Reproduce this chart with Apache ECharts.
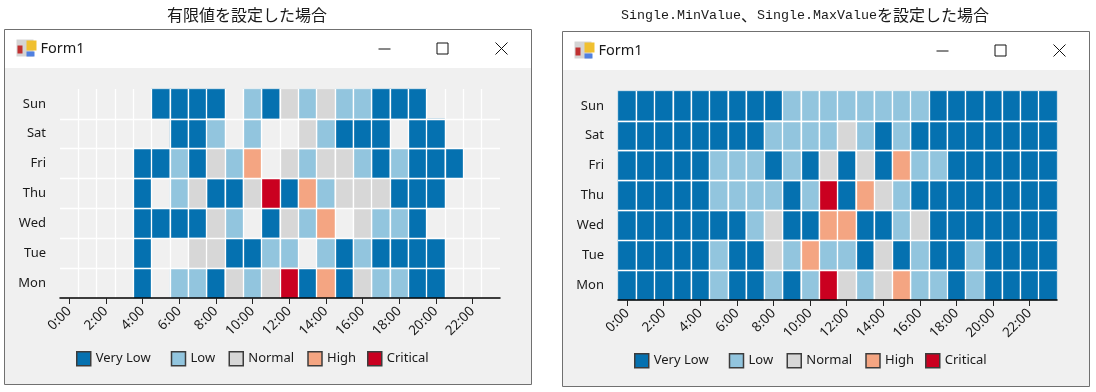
<!DOCTYPE html>
<html>
<head>
<meta charset="utf-8">
<title>Heatmap</title>
<script src="https://cdn.jsdelivr.net/npm/echarts@6/dist/echarts.min.js"></script>
<style>
  html, body { margin: 0; padding: 0; background: #fff; }
  #chart { width: 1096px; height: 392px; }
</style>
</head>
<body>
<div id="chart"></div>
<script>
const days = ['Mon', 'Tue', 'Wed', 'Thu', 'Fri', 'Sat', 'Sun'];
const hours = ['0:00', '1:00', '2:00', '3:00', '4:00', '5:00', '6:00', '7:00', '8:00', '9:00', '10:00', '11:00',
  '12:00', '13:00', '14:00', '15:00', '16:00', '17:00', '18:00', '19:00', '20:00', '21:00', '22:00', '23:00'];
const levels = ['Very Low', 'Low', 'Normal', 'High', 'Critical'];
const levelColors = ['#0571b0', '#92c5de', '#d7d7d7', '#f4a582', '#ca0020'];

// cell level per hour (0 = Very Low ... 4 = Critical, _ = no data)
const _ = null;
const finiteMon = [_, _, _, _, 0, _, 1, 1, 0, 2, 1, 2, 4, 0, 3, 0, 2, 1, 1, 0, 0, _, _, _];
const finiteTue = [_, _, _, _, 0, _, _, 2, 2, 0, 0, 1, 1, _, 1, 0, 1, 0, 0, 0, 0, _, _, _];
const finiteWed = [_, _, _, _, 0, 0, 0, 0, 2, 1, _, 0, 2, 1, 3, _, 2, 1, 1, 0, _, _, _, _];
const finiteThu = [_, _, _, _, 0, _, 1, 2, 0, 0, 2, 4, 0, 3, 1, 2, 2, 2, 0, 0, 0, _, _, _];
const finiteFri = [_, _, _, _, 0, 0, 1, 0, 2, 1, 3, _, 2, 1, 2, 2, 1, 0, 1, 0, 0, 0, _, _];
const finiteSat = [_, _, _, _, _, _, 0, 0, 1, _, 1, _, _, 2, 1, 0, 0, 0, _, 0, 0, _, _, _];
const finiteSun = [_, _, _, _, _, 0, 0, 0, 0, _, 1, 0, 2, 1, 2, 1, 1, 0, 0, 0, _, _, _, _];

const singleMon = [0, 0, 0, 0, 0, 1, 0, 0, 1, 0, 1, 4, 2, 1, 2, 3, 1, 1, 0, 1, 0, 0, 0, 0];
const singleTue = [0, 0, 0, 0, 0, 1, 0, 0, 2, 1, 3, 1, 1, 0, 2, 0, 1, 0, 0, 1, 0, 0, 0, 0];
const singleWed = [0, 0, 0, 0, 0, 0, 0, 1, 2, 0, 0, 3, 3, 0, 0, 1, 2, 0, 0, 0, 0, 0, 0, 0];
const singleThu = [0, 0, 0, 0, 0, 1, 1, 1, 1, 0, 1, 4, 0, 3, 2, 1, 0, 0, 0, 0, 0, 0, 0, 0];
const singleFri = [0, 0, 0, 0, 0, 1, 1, 1, 0, 1, 0, 2, 0, 2, 0, 3, 1, 1, 0, 0, 0, 0, 0, 0];
const singleSat = [0, 0, 0, 0, 0, 0, 0, 0, 1, 1, 1, 1, 2, 1, 0, 1, 0, 0, 0, 0, 0, 0, 0, 0];
const singleSun = [0, 0, 0, 0, 0, 0, 0, 0, 0, 1, 1, 1, 1, 1, 1, 1, 1, 0, 0, 0, 0, 0, 0, 0];

const finiteRows = [finiteMon, finiteTue, finiteWed, finiteThu, finiteFri, finiteSat, finiteSun];
const singleRows = [singleMon, singleTue, singleWed, singleThu, singleFri, singleSat, singleSun];

const labelFont = '"Noto Sans", sans-serif';
const textColor = '#1a1a1a';
const legendTextWidths = [64, 27, 48, 28, 46];

// one heatmap series per level, so the legend picks up the colours
function levelSeries(rows, axisIndex) {
  return levels.map((name, lv) => {
    const cells = [];
    rows.forEach((row, y) => row.forEach((v, x) => { if (v === lv) cells.push([x, y, v]); }));
    return {
      name,
      type: 'heatmap',
      xAxisIndex: axisIndex,
      yAxisIndex: axisIndex,
      data: cells,
      itemStyle: { color: levelColors[lv], borderColor: 'rgba(255,255,255,0.45)', borderWidth: 1 }
    };
  });
}

function xAxisFor(gridIndex) {
  return {
    type: 'category',
    gridIndex,
    z: 3, // axis line and white lines stay above the cells
    data: hours,
    axisLine: { lineStyle: { color: '#000', width: 1.5 } },
    axisTick: { show: true, alignWithLabel: true, interval: 1, length: 6, lineStyle: { color: '#222', width: 1 } },
    axisLabel: { interval: 1, rotate: 45, margin: 11, color: textColor, fontFamily: labelFont, fontSize: 13.5 },
    splitLine: { show: true, interval: 0, showMinLine: false, showMaxLine: false, lineStyle: { color: '#fff', width: 1.3 } }
  };
}

function yAxisFor(gridIndex) {
  return {
    type: 'category',
    gridIndex,
    z: 3,
    data: days,
    axisLine: { show: false },
    axisTick: { show: false },
    axisLabel: { margin: 14, color: textColor, fontFamily: labelFont, fontSize: 13, padding: [0, 0, 3, 0] },
    splitLine: { show: true, interval: 0, showMinLine: false, showMaxLine: false, lineStyle: { color: '#fff', width: 1.3 } }
  };
}

// fixed width tokens: the legend has no per-item gap, and a token only counts
// for layout when it has a background, hence the see-through one
function legendRich() {
  const rich = {};
  legendTextWidths.forEach((width, i) => {
    rich['w' + i] = { width, backgroundColor: 'rgba(0,0,0,0)', color: textColor, fontFamily: labelFont, fontSize: 13 };
  });
  return rich;
}

function legendFor(left, top) {
  return {
    left,
    top,
    padding: 0,
    data: levels,
    icon: 'rect',
    itemWidth: 14,
    itemHeight: 14,
    itemGap: 11,
    selectedMode: false,
    itemStyle: { borderColor: '#3c3c3c', borderWidth: 1.5 },
    formatter: name => `{w${levels.indexOf(name)}|${name}}`,
    textStyle: { color: textColor, fontFamily: labelFont, fontSize: 13, rich: legendRich() }
  };
}

// the WinForms window around each chart
function windowFrame(x, y, w, h, barH) {
  const right = x + w;
  const midY = y + barH / 2;
  const box = (bx, by, bw, bh, fill) => ({ type: 'rect', z: -5, silent: true, shape: { x: bx, y: by, width: bw, height: bh }, style: { fill } });
  const stroke = { stroke: '#111', lineWidth: 1 };
  return [
    { type: 'rect', z: -6, silent: true, shape: { x, y, width: w, height: h }, style: { fill: '#f0f0f0', stroke: '#707070', lineWidth: 1 } },
    box(x + 0.5, y + 0.5, w - 1, barH, '#fff'),
    box(x + 12, midY - 9, 17, 17, '#d4d4d4'),
    box(x + 22, midY - 8, 10, 10, '#f0c030'),
    box(x + 13, midY - 3, 5, 8, '#c03030'),
    box(x + 22, midY + 3, 8, 5, '#5080e0'),
    { type: 'text', z: -5, silent: true, style: { x: x + 36, y: midY, text: 'Form1', fill: '#1a1a1a', font: '14.5px ' + labelFont, verticalAlign: 'middle' } },
    { type: 'line', z: -5, silent: true, shape: { x1: right - 153, y1: midY + 0.5, x2: right - 141, y2: midY + 0.5 }, style: stroke },
    { type: 'rect', z: -5, silent: true, shape: { x: right - 94.5, y: midY - 5.5, width: 11, height: 11 }, style: { fill: 'none', stroke: '#111', lineWidth: 1 } },
    { type: 'line', z: -5, silent: true, shape: { x1: right - 36, y1: midY - 6, x2: right - 24, y2: midY + 6 }, style: stroke },
    { type: 'line', z: -5, silent: true, shape: { x1: right - 24, y1: midY - 6, x2: right - 36, y2: midY + 6 }, style: stroke }
  ];
}

const cjkFont = '"Noto Sans CJK JP", sans-serif';
const monoFont = '"Liberation Mono", monospace';

const option = {
  backgroundColor: '#fff',
  animation: false,
  title: [
    {
      text: '有限値を設定した場合',
      left: 167,
      top: 7,
      padding: 0,
      textStyle: { fontFamily: cjkFont, fontSize: 16, fontWeight: 'normal', color: '#1a1a1a' }
    },
    {
      text: '{m|Single.MinValue}{j|、}{m|Single.MaxValue}{j|を設定した場合}',
      left: 621,
      top: 7,
      padding: 0,
      textStyle: {
        fontSize: 16,
        fontWeight: 'normal',
        rich: {
          m: { fontFamily: monoFont, fontSize: 13.33, fontWeight: 'normal', color: '#1a1a1a' },
          j: { fontFamily: cjkFont, fontSize: 16, fontWeight: 'normal', color: '#1a1a1a' }
        }
      }
    }
  ],
  graphic: {
    elements: [...windowFrame(4.5, 29.5, 527, 355, 38), ...windowFrame(562.5, 31.5, 527, 355, 38)]
  },
  legend: [legendFor(76, 351), legendFor(634, 353)],
  grid: [
    { left: 60, top: 89, width: 440, height: 209 },
    { left: 618, top: 91, width: 439, height: 209 }
  ],
  xAxis: [xAxisFor(0), xAxisFor(1)],
  yAxis: [yAxisFor(0), yAxisFor(1)],
  series: [...levelSeries(finiteRows, 0), ...levelSeries(singleRows, 1)]
};

const chart = echarts.init(document.getElementById('chart'));
chart.setOption(option);
</script>
</body>
</html>
